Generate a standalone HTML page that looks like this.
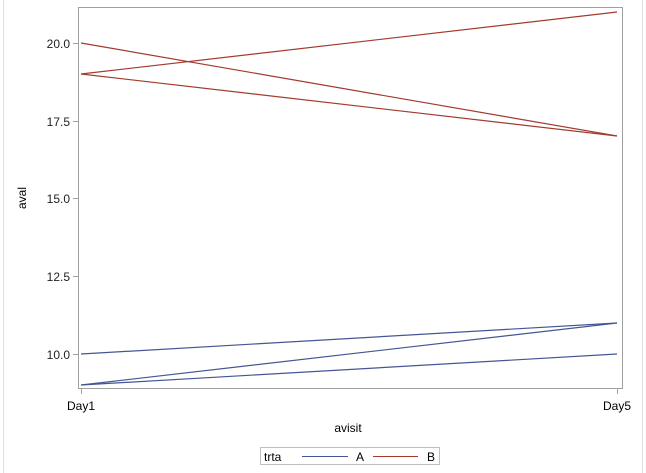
<!DOCTYPE html>
<html><head><style>body{margin:0;background:#fff}svg{display:block}</style></head><body>
<svg width="646" height="473" xmlns="http://www.w3.org/2000/svg" font-family="Liberation Sans, Arial, sans-serif" font-size="12" fill="#000">
<rect x="0" y="0" width="646" height="473" fill="#fff"/>
<rect x="3.5" y="-1" width="639" height="476" fill="none" stroke="#e0e0e0"/>
<rect x="78.5" y="7.5" width="544" height="381" fill="none" stroke="#a0a0a0"/>
<g stroke="#a0a0a0">
<line x1="73" x2="78" y1="43.5" y2="43.5"/><line x1="73" x2="78" y1="121.5" y2="121.5"/>
<line x1="73" x2="78" y1="198.5" y2="198.5"/><line x1="73" x2="78" y1="276.5" y2="276.5"/>
<line x1="73" x2="78" y1="354.5" y2="354.5"/>
<line x1="81.5" x2="81.5" y1="389" y2="394"/><line x1="617.5" x2="617.5" y1="389" y2="394"/>
</g>
<g text-anchor="end" fill="#222">
<text x="70" y="48">20.0</text><text x="70" y="126">17.5</text><text x="70" y="203">15.0</text>
<text x="70" y="281">12.5</text><text x="70" y="359">10.0</text>
</g>
<text x="81" y="410" text-anchor="middle">Day1</text>
<text x="617" y="410" text-anchor="middle">Day5</text>
<text x="348" y="432" text-anchor="middle">avisit</text>
<text transform="translate(26,198) rotate(-90)" text-anchor="middle">aval</text>
<g stroke="#a23a2e" stroke-width="1.2" fill="none">
<line x1="81" y1="43" x2="617" y2="136"/>
<line x1="81" y1="74" x2="617" y2="136"/>
<line x1="81" y1="74" x2="617" y2="12"/>
</g>
<g stroke="#445694" stroke-width="1.2" fill="none">
<line x1="81" y1="354" x2="617" y2="323"/>
<line x1="81" y1="385" x2="617" y2="323"/>
<line x1="81" y1="385" x2="617" y2="354"/>
</g>
<rect x="260.5" y="447.5" width="179" height="17" fill="none" stroke="#c0c0c0"/>
<text x="264" y="461">trta</text>
<line x1="302" x2="348" y1="456.5" y2="456.5" stroke="#445694"/>
<text x="356" y="461">A</text>
<line x1="373" x2="418" y1="456.5" y2="456.5" stroke="#a23a2e"/>
<text x="427" y="461">B</text>
</svg>
</body></html>
